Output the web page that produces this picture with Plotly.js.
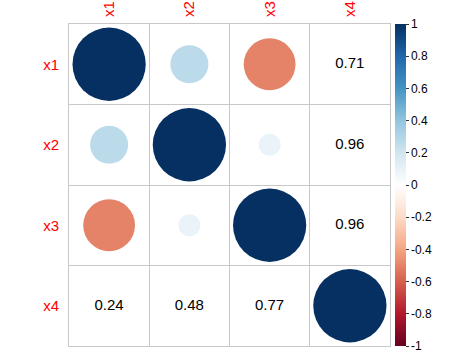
<!DOCTYPE html>
<html><head><meta charset="utf-8">
<script src="https://cdn.plot.ly/plotly-3.0.1.min.js"></script>
<style>html,body{margin:0;padding:0;background:#fff}</style>
</head><body>
<div id="chart" style="width:474px;height:355px"></div>
<script>
var variables = ["x1", "x2", "x3", "x4"];
// circle cells: row variable, column variable, correlation
var circleRows = ["x1", "x1", "x1", "x2", "x2", "x2", "x3", "x3", "x3", "x4"];
var circleCols = ["x1", "x2", "x3", "x1", "x2", "x3", "x1", "x2", "x3", "x4"];
var circleVals = [1, 0.27, -0.5, 0.27, 1, 0.09, -0.5, 0.09, 1, 1];
// numeric cells
var textRows = ["x1", "x2", "x3", "x4", "x4", "x4"];
var textCols = ["x4", "x4", "x4", "x1", "x2", "x3"];
var textLabels = ["0.71", "0.96", "0.96", "0.24", "0.48", "0.77"];
var colorTicks = [-1, -0.8, -0.6, -0.4, -0.2, 0, 0.2, 0.4, 0.6, 0.8, 1];

var W = 474, H = 355, M = {l: 69, r: 84, t: 24, b: 9, pad: 0};
var cellPx = (H - M.t - M.b) / variables.length;

var rdbu = [
  [0.0, "#67001F"], [0.1, "#B2182B"], [0.2, "#D6604D"], [0.3, "#F4A582"],
  [0.4, "#FDDBC7"], [0.5, "#FFFFFF"], [0.6, "#D1E5F0"], [0.7, "#92C5DE"],
  [0.8, "#4393C3"], [0.9, "#2166AC"], [1.0, "#053061"]
];

function idx(v) { return variables.indexOf(v) + 1; }

var circles = {
  type: "scatter", mode: "markers",
  x: circleCols.map(idx), y: circleRows.map(idx),
  marker: {
    size: circleVals.map(function (v) { return Math.sqrt(Math.abs(v)) * cellPx * 0.91; }),
    color: circleVals, cmin: -1, cmax: 1, colorscale: rdbu,
    opacity: 1,
    line: {width: 0},
    colorbar: {
      x: 1, xref: "paper", xanchor: "left", xpad: 5,
      y: 0.5, yanchor: "middle", len: 1, lenmode: "fraction", ypad: 0,
      thickness: 11, outlinewidth: 0,
      tickmode: "array", tickvals: colorTicks,
      ticktext: colorTicks.map(function (t) { return String(t); }),
      ticks: "outside", ticklen: 3, tickcolor: "#333",
      tickfont: {family: "Liberation Sans, Arial, sans-serif", size: 12, color: "#000"}
    }
  },
  hoverinfo: "skip", showlegend: false
};

var texts = {
  type: "scatter", mode: "text",
  x: textCols.map(idx), y: textRows.map(idx), text: textLabels,
  textfont: {family: "Liberation Sans, Arial, sans-serif", size: 15, color: "#000"},
  hoverinfo: "skip", showlegend: false
};

var axisCommon = {
  tickmode: "array", tickvals: [1, 2, 3, 4], ticktext: variables,
  tickfont: {family: "Liberation Sans, Arial, sans-serif", size: 15, color: "#ff0000"},
  showgrid: false, zeroline: false, ticks: "",
  showline: true, mirror: true, linecolor: "#c8c8c8", linewidth: 1,
  minor: {tickmode: "array", tickvals: [1.5, 2.5, 3.5], showgrid: true, gridcolor: "#c8c8c8", gridwidth: 1, ticks: ""},
  fixedrange: true
};

var layout = {
  width: W, height: H, margin: M,
  paper_bgcolor: "#fff", plot_bgcolor: "#fff",
  xaxis: Object.assign({}, axisCommon, {range: [0.5, 4.5], side: "top", tickangle: -90, ticklabelstandoff: 3}),
  yaxis: Object.assign({}, axisCommon, {range: [4.5, 0.5], ticklabelstandoff: 6}),
  showlegend: false
};

Plotly.newPlot("chart", [circles, texts], layout, {displayModeBar: false, staticPlot: true});
</script>
</body></html>
